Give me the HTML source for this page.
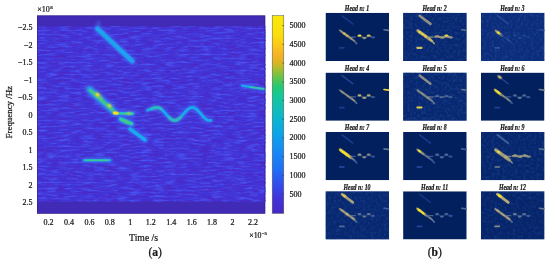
<!DOCTYPE html><html><head><meta charset="utf-8"><style>html,body{margin:0;padding:0;background:#fff;}body{width:550px;height:262px;overflow:hidden;}svg{display:block}text{font-family:"Liberation Serif",serif;fill:#151515;stroke:#151515;stroke-width:0.22px}</style></head><body>
<svg width="550" height="262" viewBox="0 0 550 262">
<defs>
<linearGradient id="cb" x1="0" y1="0" x2="0" y2="1"><stop offset="0.000" stop-color="#fae80a"/><stop offset="0.098" stop-color="#fade0f"/><stop offset="0.149" stop-color="#fac819"/><stop offset="0.199" stop-color="#f5b228"/><stop offset="0.240" stop-color="#d7b623"/><stop offset="0.275" stop-color="#a0be32"/><stop offset="0.326" stop-color="#50c655"/><stop offset="0.361" stop-color="#23c873"/><stop offset="0.401" stop-color="#14c896"/><stop offset="0.452" stop-color="#12c0af"/><stop offset="0.528" stop-color="#0ab4d2"/><stop offset="0.603" stop-color="#0ca2e8"/><stop offset="0.679" stop-color="#168cf5"/><stop offset="0.780" stop-color="#206ef5"/><stop offset="0.856" stop-color="#324ceb"/><stop offset="0.931" stop-color="#4132d7"/><stop offset="1.000" stop-color="#4628c6"/></linearGradient>
<filter id="n1" x="0" y="0" width="1" height="1" color-interpolation-filters="sRGB"><feTurbulence type="fractalNoise" baseFrequency="0.085 0.5" numOctaves="3" seed="5" result="t"/><feColorMatrix in="t" type="matrix" values="0 0 0 0 0.29  0 0 0 0 0.36  0 0 0 0 0.98  2.2 0 0 0 -0.97" result="c"/><feTurbulence type="fractalNoise" baseFrequency="0.075 0.5" numOctaves="2" seed="17" result="t2"/><feColorMatrix in="t2" type="matrix" values="0 0 0 0 0.31  0 0 0 0 0.14  0 0 0 0 0.74  2.2 0 0 0 -0.98" result="c2"/><feMerge><feMergeNode in="SourceGraphic"/><feMergeNode in="c2"/><feMergeNode in="c"/></feMerge></filter>
<filter id="b4" filterUnits="userSpaceOnUse" x="0" y="0" width="550" height="262"><feGaussianBlur stdDeviation="0.4"/></filter>
<filter id="b5" filterUnits="userSpaceOnUse" x="0" y="0" width="550" height="262"><feGaussianBlur stdDeviation="0.5"/></filter>
<filter id="b6" filterUnits="userSpaceOnUse" x="0" y="0" width="550" height="262"><feGaussianBlur stdDeviation="0.6"/></filter>
<filter id="b7" filterUnits="userSpaceOnUse" x="0" y="0" width="550" height="262"><feGaussianBlur stdDeviation="0.7"/></filter>
<filter id="b8" filterUnits="userSpaceOnUse" x="0" y="0" width="550" height="262"><feGaussianBlur stdDeviation="0.8"/></filter>
<filter id="b10" filterUnits="userSpaceOnUse" x="0" y="0" width="550" height="262"><feGaussianBlur stdDeviation="1.0"/></filter>
<filter id="b12" filterUnits="userSpaceOnUse" x="0" y="0" width="550" height="262"><feGaussianBlur stdDeviation="1.2"/></filter>
<filter id="b15" filterUnits="userSpaceOnUse" x="0" y="0" width="550" height="262"><feGaussianBlur stdDeviation="1.5"/></filter>
<clipPath id="pc"><rect x="37.00" y="15.50" width="228.20" height="198.10"/></clipPath>
<filter id="hn0" x="0" y="0" width="1" height="1" color-interpolation-filters="sRGB"><feTurbulence type="fractalNoise" baseFrequency="0.38 0.34" numOctaves="3" seed="3" result="t"/><feColorMatrix in="t" type="matrix" values="0 0 0 0 0.11  0 0 0 0 0.26  0 0 0 0 0.56  2.8 0 0 0 -1.22" result="c"/><feGaussianBlur in="c" stdDeviation="0.45" result="cb"/><feComposite in="cb" in2="SourceGraphic" operator="over"/></filter>
<filter id="hn1" x="0" y="0" width="1" height="1" color-interpolation-filters="sRGB"><feTurbulence type="fractalNoise" baseFrequency="0.38 0.34" numOctaves="3" seed="7" result="t"/><feColorMatrix in="t" type="matrix" values="0 0 0 0 0.11  0 0 0 0 0.26  0 0 0 0 0.56  2.8 0 0 0 -1.22" result="c"/><feGaussianBlur in="c" stdDeviation="0.45" result="cb"/><feComposite in="cb" in2="SourceGraphic" operator="over"/></filter>
<filter id="hn2" x="0" y="0" width="1" height="1" color-interpolation-filters="sRGB"><feTurbulence type="fractalNoise" baseFrequency="0.38 0.34" numOctaves="3" seed="11" result="t"/><feColorMatrix in="t" type="matrix" values="0 0 0 0 0.11  0 0 0 0 0.26  0 0 0 0 0.56  2.8 0 0 0 -1.22" result="c"/><feGaussianBlur in="c" stdDeviation="0.45" result="cb"/><feComposite in="cb" in2="SourceGraphic" operator="over"/></filter>
</defs>
<rect x="37.00" y="15.50" width="228.20" height="198.10" fill="#402ab6"/>
<rect x="37.00" y="26.5" width="228.20" height="175" fill="#4231d4" filter="url(#n1)"/>
<g clip-path="url(#pc)">
<ellipse cx="98.5" cy="24.0" rx="2.20" ry="3.50" fill="#4a6ae8" opacity="0.55" transform="rotate(0.0 98.5 24.0)" filter="url(#b15)"/>
<path d="M97.4,28.6 L132.3,61.2" fill="none" stroke="#3f6ef2" stroke-width="7.00" stroke-linecap="round" stroke-linejoin="round" opacity="0.80" filter="url(#b12)"/>
<path d="M97.4,28.6 L132.3,61.2" fill="none" stroke="#2a90f0" stroke-width="4.40" stroke-linecap="round" stroke-linejoin="round" opacity="1.00" filter="url(#b9)"/>
<path d="M97.6,28.8 L132.0,61.0" fill="none" stroke="#18b0ec" stroke-width="2.20" stroke-linecap="round" stroke-linejoin="round" opacity="1.00" filter="url(#b8)"/>
<path d="M89.6,89.6 L114.0,111.5" fill="none" stroke="#3f6ef2" stroke-width="9.00" stroke-linecap="round" stroke-linejoin="round" opacity="0.85" filter="url(#b15)"/>
<path d="M89.8,89.8 L114.0,111.5" fill="none" stroke="#20b0d8" stroke-width="5.20" stroke-linecap="round" stroke-linejoin="round" opacity="1.00" filter="url(#b10)"/>
<path d="M90.5,90.5 L113.5,111.0" fill="none" stroke="#40c48c" stroke-width="3.00" stroke-linecap="round" stroke-linejoin="round" opacity="1.00" filter="url(#b9)"/>
<path d="M116.0,113.5 L132.6,113.6" fill="none" stroke="#3f6ef2" stroke-width="6.20" stroke-linecap="round" stroke-linejoin="round" opacity="0.85" filter="url(#b10)"/>
<path d="M116.0,113.5 L132.6,113.6" fill="none" stroke="#16aaee" stroke-width="3.20" stroke-linecap="round" stroke-linejoin="round" opacity="1.00" filter="url(#b6)"/>
<path d="M116.0,113.5 L132.6,113.6" fill="none" stroke="#40c890" stroke-width="1.92" stroke-linecap="round" stroke-linejoin="round" opacity="1.00" filter="url(#b6)"/>
<path d="M120.8,119.2 L131.4,123.8" fill="none" stroke="#3f6ef2" stroke-width="7.40" stroke-linecap="round" stroke-linejoin="round" opacity="0.85" filter="url(#b10)"/>
<path d="M120.8,119.2 L131.4,123.8" fill="none" stroke="#16aaee" stroke-width="4.40" stroke-linecap="round" stroke-linejoin="round" opacity="1.00" filter="url(#b6)"/>
<path d="M120.8,119.2 L131.4,123.8" fill="none" stroke="#3cc890" stroke-width="2.64" stroke-linecap="round" stroke-linejoin="round" opacity="1.00" filter="url(#b6)"/>
<path d="M130.0,129.0 L145.0,139.8" fill="none" stroke="#3f6ef2" stroke-width="6.40" stroke-linecap="round" stroke-linejoin="round" opacity="0.75" filter="url(#b10)"/>
<path d="M130.0,129.0 L145.0,139.8" fill="none" stroke="#16aaee" stroke-width="3.40" stroke-linecap="round" stroke-linejoin="round" opacity="1.00" filter="url(#b6)"/>
<ellipse cx="97.6" cy="94.7" rx="3.20" ry="2.00" fill="#a8cc50" opacity="1.00" transform="rotate(40.0 97.6 94.7)" filter="url(#b10)"/>
<ellipse cx="97.6" cy="94.7" rx="1.80" ry="1.10" fill="#f6dc20" opacity="1.00" transform="rotate(40.0 97.6 94.7)" filter="url(#b5)"/>
<ellipse cx="101.2" cy="98.2" rx="1.60" ry="1.10" fill="#a8cc50" opacity="0.90" transform="rotate(40.0 101.2 98.2)" filter="url(#b8)"/>
<ellipse cx="109.5" cy="105.8" rx="2.80" ry="1.80" fill="#a0cc58" opacity="1.00" transform="rotate(40.0 109.5 105.8)" filter="url(#b10)"/>
<ellipse cx="109.5" cy="105.8" rx="1.50" ry="1.00" fill="#eed828" opacity="1.00" transform="rotate(40.0 109.5 105.8)" filter="url(#b5)"/>
<ellipse cx="115.6" cy="113.0" rx="3.00" ry="1.80" fill="#fae018" opacity="1.00" transform="rotate(5.0 115.6 113.0)" filter="url(#b7)"/>
<ellipse cx="129.0" cy="113.5" rx="2.20" ry="1.40" fill="#b8cc48" opacity="0.90" transform="rotate(0.0 129.0 113.5)" filter="url(#b8)"/>
<ellipse cx="126.0" cy="121.8" rx="3.20" ry="1.70" fill="#48c880" opacity="0.90" transform="rotate(22.0 126.0 121.8)" filter="url(#b8)"/>
<path d="M147.6,110.2 L148.4,109.9 L149.2,109.5 L150.0,109.2 L150.8,108.9 L151.6,108.6 L152.4,108.4 L153.2,108.1 L154.0,107.9 L154.8,107.8 L155.6,107.7 L156.4,107.6 L157.2,107.5 L158.0,107.6 L158.8,107.8 L159.6,108.1 L160.4,108.5 L161.2,109.1 L162.0,109.8 L162.8,110.5 L163.6,111.3 L164.4,112.2 L165.2,113.1 L166.0,114.1 L166.8,115.0 L167.6,115.9 L168.4,116.8 L169.2,117.6 L170.0,118.3 L170.8,119.0 L171.6,119.5 L172.4,120.0 L173.2,120.3 L174.0,120.4 L174.8,120.5 L175.6,120.4 L176.4,120.2 L177.2,119.9 L178.0,119.4 L178.8,118.8 L179.6,118.1 L180.4,117.4 L181.2,116.6 L182.0,115.7 L182.8,114.8 L183.6,113.8 L184.4,112.9 L185.2,112.0 L186.0,111.1 L186.8,110.3 L187.6,109.6 L188.4,109.0 L189.2,108.4 L190.0,108.0 L190.8,107.7 L191.6,107.5 L192.4,107.5 L193.2,107.6 L194.0,107.8 L194.8,108.2 L195.6,108.7 L196.4,109.3 L197.2,109.9 L198.0,110.7 L198.8,111.6 L199.6,112.4 L200.4,113.4 L201.2,114.3 L202.0,115.2 L202.8,116.1 L203.6,117.0 L204.4,117.8 L205.2,118.5 L206.0,119.1 L206.8,119.6 L207.6,120.0 L208.4,120.3 L209.2,120.5 L210.0,120.5 L210.8,120.4" fill="none" stroke="#3f6ef2" stroke-width="5.70" stroke-linecap="round" stroke-linejoin="round" opacity="0.65" filter="url(#b10)"/>
<path d="M147.6,110.2 L148.4,109.9 L149.2,109.5 L150.0,109.2 L150.8,108.9 L151.6,108.6 L152.4,108.4 L153.2,108.1 L154.0,107.9 L154.8,107.8 L155.6,107.7 L156.4,107.6 L157.2,107.5 L158.0,107.6 L158.8,107.8 L159.6,108.1 L160.4,108.5 L161.2,109.1 L162.0,109.8 L162.8,110.5 L163.6,111.3 L164.4,112.2 L165.2,113.1 L166.0,114.1 L166.8,115.0 L167.6,115.9 L168.4,116.8 L169.2,117.6 L170.0,118.3 L170.8,119.0 L171.6,119.5 L172.4,120.0 L173.2,120.3 L174.0,120.4 L174.8,120.5 L175.6,120.4 L176.4,120.2 L177.2,119.9 L178.0,119.4 L178.8,118.8 L179.6,118.1 L180.4,117.4 L181.2,116.6 L182.0,115.7 L182.8,114.8 L183.6,113.8 L184.4,112.9 L185.2,112.0 L186.0,111.1 L186.8,110.3 L187.6,109.6 L188.4,109.0 L189.2,108.4 L190.0,108.0 L190.8,107.7 L191.6,107.5 L192.4,107.5 L193.2,107.6 L194.0,107.8 L194.8,108.2 L195.6,108.7 L196.4,109.3 L197.2,109.9 L198.0,110.7 L198.8,111.6 L199.6,112.4 L200.4,113.4 L201.2,114.3 L202.0,115.2 L202.8,116.1 L203.6,117.0 L204.4,117.8 L205.2,118.5 L206.0,119.1 L206.8,119.6 L207.6,120.0 L208.4,120.3 L209.2,120.5 L210.0,120.5 L210.8,120.4" fill="none" stroke="#16aaee" stroke-width="2.70" stroke-linecap="round" stroke-linejoin="round" opacity="1.00" filter="url(#b6)"/>
<path d="M151.6,108.6 L152.4,108.4 L153.2,108.1 L154.0,107.9 L154.8,107.8 L155.6,107.7 L156.4,107.6 L157.2,107.5 L158.0,107.6 L158.8,107.8 L159.6,108.1 L160.4,108.5 L161.2,109.1" fill="none" stroke="#3cc4a0" stroke-width="2.40" stroke-linecap="round" stroke-linejoin="round" opacity="0.90" filter="url(#b10)"/>
<path d="M169.2,117.6 L170.0,118.3 L170.8,119.0 L171.6,119.5 L172.4,120.0 L173.2,120.3 L174.0,120.4 L174.8,120.5 L175.6,120.4 L176.4,120.2 L177.2,119.9 L178.0,119.4 L178.8,118.8 L179.6,118.1 L180.4,117.4" fill="none" stroke="#3cc4a0" stroke-width="2.40" stroke-linecap="round" stroke-linejoin="round" opacity="0.90" filter="url(#b10)"/>
<path d="M242.2,85.7 L266.0,89.4" fill="none" stroke="#3f6ef2" stroke-width="5.10" stroke-linecap="round" stroke-linejoin="round" opacity="0.70" filter="url(#b10)"/>
<path d="M242.2,85.7 L266.0,89.4" fill="none" stroke="#16aaee" stroke-width="2.10" stroke-linecap="round" stroke-linejoin="round" opacity="1.00" filter="url(#b6)"/>
<path d="M250.0,87.0 L266.0,89.3" fill="none" stroke="#38c4a0" stroke-width="1.60" stroke-linecap="round" stroke-linejoin="round" opacity="1.00" filter="url(#b6)"/>
<path d="M84.3,160.3 L109.8,160.3" fill="none" stroke="#3f6ef2" stroke-width="5.40" stroke-linecap="round" stroke-linejoin="round" opacity="0.85" filter="url(#b10)"/>
<path d="M84.3,160.3 L109.8,160.3" fill="none" stroke="#16aaee" stroke-width="2.40" stroke-linecap="round" stroke-linejoin="round" opacity="1.00" filter="url(#b6)"/>
<path d="M86.0,160.3 L108.0,160.3" fill="none" stroke="#3cc890" stroke-width="1.50" stroke-linecap="round" stroke-linejoin="round" opacity="1.00" filter="url(#b6)"/>
</g>
<rect x="37.30" y="15.80" width="227.60" height="197.50" fill="none" stroke="#2a1f70" stroke-width="0.6" opacity="0.8"/>
<rect x="272.2" y="15.70" width="11.6" height="197.70" fill="url(#cb)" stroke="#555" stroke-width="0.5"/>
<text x="32.4" y="27.80" font-size="8" text-anchor="end" dominant-baseline="central">−2.5</text>
<text x="32.4" y="45.30" font-size="8" text-anchor="end" dominant-baseline="central">−2</text>
<text x="32.4" y="62.80" font-size="8" text-anchor="end" dominant-baseline="central">−1.5</text>
<text x="32.4" y="80.30" font-size="8" text-anchor="end" dominant-baseline="central">−1</text>
<text x="32.4" y="97.80" font-size="8" text-anchor="end" dominant-baseline="central">−0.5</text>
<text x="32.4" y="115.30" font-size="8" text-anchor="end" dominant-baseline="central">0</text>
<text x="32.4" y="132.80" font-size="8" text-anchor="end" dominant-baseline="central">0.5</text>
<text x="32.4" y="150.30" font-size="8" text-anchor="end" dominant-baseline="central">1</text>
<text x="32.4" y="167.80" font-size="8" text-anchor="end" dominant-baseline="central">1.5</text>
<text x="32.4" y="185.30" font-size="8" text-anchor="end" dominant-baseline="central">2</text>
<text x="32.4" y="202.80" font-size="8" text-anchor="end" dominant-baseline="central">2.5</text>
<text x="48.50" y="225.4" font-size="8" text-anchor="middle">0.2</text>
<text x="68.95" y="225.4" font-size="8" text-anchor="middle">0.4</text>
<text x="89.40" y="225.4" font-size="8" text-anchor="middle">0.6</text>
<text x="109.85" y="225.4" font-size="8" text-anchor="middle">0.8</text>
<text x="130.30" y="225.4" font-size="8" text-anchor="middle">1</text>
<text x="150.75" y="225.4" font-size="8" text-anchor="middle">1.2</text>
<text x="171.20" y="225.4" font-size="8" text-anchor="middle">1.4</text>
<text x="191.65" y="225.4" font-size="8" text-anchor="middle">1.6</text>
<text x="212.10" y="225.4" font-size="8" text-anchor="middle">1.8</text>
<text x="232.55" y="225.4" font-size="8" text-anchor="middle">2</text>
<text x="253.00" y="225.4" font-size="8" text-anchor="middle">2.2</text>
<line x1="282.2" x2="284" y1="194.08" y2="194.08" stroke="#333" stroke-width="0.5"/>
<text x="289.5" y="194.08" font-size="8" dominant-baseline="central">500</text>
<line x1="282.2" x2="284" y1="175.36" y2="175.36" stroke="#333" stroke-width="0.5"/>
<text x="289.5" y="175.36" font-size="8" dominant-baseline="central">1000</text>
<line x1="282.2" x2="284" y1="156.64" y2="156.64" stroke="#333" stroke-width="0.5"/>
<text x="289.5" y="156.64" font-size="8" dominant-baseline="central">1500</text>
<line x1="282.2" x2="284" y1="137.92" y2="137.92" stroke="#333" stroke-width="0.5"/>
<text x="289.5" y="137.92" font-size="8" dominant-baseline="central">2000</text>
<line x1="282.2" x2="284" y1="119.20" y2="119.20" stroke="#333" stroke-width="0.5"/>
<text x="289.5" y="119.20" font-size="8" dominant-baseline="central">2500</text>
<line x1="282.2" x2="284" y1="100.48" y2="100.48" stroke="#333" stroke-width="0.5"/>
<text x="289.5" y="100.48" font-size="8" dominant-baseline="central">3000</text>
<line x1="282.2" x2="284" y1="81.76" y2="81.76" stroke="#333" stroke-width="0.5"/>
<text x="289.5" y="81.76" font-size="8" dominant-baseline="central">3500</text>
<line x1="282.2" x2="284" y1="63.04" y2="63.04" stroke="#333" stroke-width="0.5"/>
<text x="289.5" y="63.04" font-size="8" dominant-baseline="central">4000</text>
<line x1="282.2" x2="284" y1="44.32" y2="44.32" stroke="#333" stroke-width="0.5"/>
<text x="289.5" y="44.32" font-size="8" dominant-baseline="central">4500</text>
<line x1="282.2" x2="284" y1="25.60" y2="25.60" stroke="#333" stroke-width="0.5"/>
<text x="289.5" y="25.60" font-size="8" dominant-baseline="central">5000</text>
<text x="37.2" y="12" font-size="8">×10<tspan font-size="5" dy="-3.2" dx="0.5">8</tspan></text>
<text x="249.3" y="238.4" font-size="7.8">×10<tspan font-size="5" dy="-3.2" dx="0.3">−5</tspan></text>
<text x="143.6" y="240.6" font-size="9.7" text-anchor="middle">Time /s</text>
<text transform="translate(12,112.2) rotate(-90)" font-size="8.9" text-anchor="middle">Frequency /Hz</text>
<text x="155.2" y="256" font-size="11.6" text-anchor="middle">(<tspan font-weight="bold">a</tspan>)</text>
<text x="434.8" y="256" font-size="11.6" text-anchor="middle">(<tspan font-weight="bold">b</tspan>)</text>
<clipPath id="hc1"><rect x="325.50" y="12.80" width="63.60" height="48.20"/></clipPath>
<g clip-path="url(#hc1)">
<rect x="325.50" y="12.80" width="63.60" height="48.20" fill="#03205e"/>
<path d="M342.0,15.7 L352.8,23.9" fill="none" stroke="#153a8d" stroke-width="1.40" stroke-linecap="round" stroke-linejoin="round" opacity="1.00" filter="url(#b6)"/>
<path d="M354.1,40.8 L356.7,43.6" fill="none" stroke="#516893" stroke-width="1.60" stroke-linecap="round" stroke-linejoin="round" opacity="1.00" filter="url(#b6)"/>
<path d="M350.9,37.1 L355.4,37.1" fill="none" stroke="#516893" stroke-width="1.30" stroke-linecap="round" stroke-linejoin="round" opacity="0.90" filter="url(#b6)"/>
<path d="M340.1,30.6 L354.1,40.8" fill="none" stroke="#6c798c" stroke-width="1.20" stroke-linecap="round" stroke-linejoin="round" opacity="0.90" filter="url(#b6)"/>
<ellipse cx="341.1" cy="31.4" rx="2.74" ry="0.80" fill="#a6a07a" transform="rotate(40.5 341.1 31.4)" filter="url(#b6)"/>
<ellipse cx="343.1" cy="32.8" rx="2.74" ry="0.80" fill="#949380" transform="rotate(40.5 343.1 32.8)" filter="url(#b6)"/>
<ellipse cx="345.1" cy="34.2" rx="2.74" ry="0.80" fill="#baae72" transform="rotate(40.5 345.1 34.2)" filter="url(#b6)"/>
<ellipse cx="347.1" cy="35.7" rx="2.74" ry="0.80" fill="#99977e" transform="rotate(40.5 347.1 35.7)" filter="url(#b6)"/>
<ellipse cx="349.1" cy="37.1" rx="2.74" ry="0.80" fill="#9f9b7c" transform="rotate(40.5 349.1 37.1)" filter="url(#b6)"/>
<ellipse cx="351.1" cy="38.6" rx="2.74" ry="0.80" fill="#b8ad73" transform="rotate(40.5 351.1 38.6)" filter="url(#b6)"/>
<ellipse cx="353.1" cy="40.0" rx="2.74" ry="0.80" fill="#919181" transform="rotate(40.5 353.1 40.0)" filter="url(#b6)"/>
<ellipse cx="344.3" cy="33.7" rx="1.70" ry="1.10" fill="#dbc655" transform="rotate(35.0 344.3 33.7)" filter="url(#b6)"/>
<ellipse cx="347.1" cy="35.7" rx="1.70" ry="1.10" fill="#cdbc63" transform="rotate(35.0 347.1 35.7)" filter="url(#b6)"/>
<path d="M357.9,36.6 L358.6,36.4 L359.2,36.3 L359.8,36.3 L360.5,36.4 L361.1,36.6 L361.8,36.8 L362.4,37.1 L363.0,37.3 L363.7,37.4 L364.3,37.5 L364.9,37.4 L365.6,37.3 L366.2,37.1 L366.8,36.8 L367.5,36.6 L368.1,36.4 L368.7,36.3 L369.4,36.3 L370.0,36.4 L370.7,36.6 L371.3,36.8 L371.9,37.1 L372.6,37.3 L373.2,37.4 L373.8,37.5 L374.5,37.4" fill="none" stroke="#909082" stroke-width="1.20" stroke-linecap="round" stroke-linejoin="round" opacity="0.70" filter="url(#b6)"/>
<ellipse cx="359.5" cy="35.5" rx="2.00" ry="1.10" fill="#f5e033" transform="rotate(0.0 359.5 35.5)" filter="url(#b6)"/>
<ellipse cx="364.3" cy="38.1" rx="2.00" ry="1.10" fill="#98967f" transform="rotate(0.0 364.3 38.1)" filter="url(#b6)"/>
<ellipse cx="368.7" cy="35.5" rx="2.00" ry="1.10" fill="#dbc655" transform="rotate(0.0 368.7 35.5)" filter="url(#b6)"/>
<ellipse cx="372.9" cy="37.4" rx="2.00" ry="1.10" fill="#315297" transform="rotate(0.0 372.9 37.4)" filter="url(#b6)"/>
<path d="M384.0,29.7 L390.4,30.6" fill="none" stroke="#64748e" stroke-width="1.60" stroke-linecap="round" stroke-linejoin="round" opacity="1.00" filter="url(#b6)"/>
<path d="M339.8,47.8 L343.9,47.8" fill="none" stroke="#153a8d" stroke-width="1.80" stroke-linecap="round" stroke-linejoin="round" opacity="1.00" filter="url(#b6)"/>
</g>
<text x="344.80" y="11.20" font-size="7.2" font-weight="bold" font-style="italic" textLength="24.4" lengthAdjust="spacingAndGlyphs">Head n: 1</text>
<clipPath id="hc2"><rect x="403.10" y="12.80" width="63.60" height="48.20"/></clipPath>
<g clip-path="url(#hc2)">
<rect x="403.10" y="12.80" width="63.60" height="48.20" fill="#082972"/>
<rect x="403.10" y="12.80" width="63.60" height="48.20" fill="#082972" opacity="0.60" filter="url(#hn2)"/>
<path d="M419.6,15.7 L430.4,23.9" fill="none" stroke="#8f9082" stroke-width="2.60" stroke-linecap="round" stroke-linejoin="round" opacity="1.00" filter="url(#b6)"/>
<path d="M431.7,40.8 L434.3,43.6" fill="none" stroke="#98967f" stroke-width="1.60" stroke-linecap="round" stroke-linejoin="round" opacity="1.00" filter="url(#b6)"/>
<path d="M428.5,37.1 L433.0,37.1" fill="none" stroke="#98967f" stroke-width="1.30" stroke-linecap="round" stroke-linejoin="round" opacity="0.90" filter="url(#b6)"/>
<path d="M417.7,30.6 L431.7,40.8" fill="none" stroke="#7c8388" stroke-width="2.04" stroke-linecap="round" stroke-linejoin="round" opacity="0.90" filter="url(#b6)"/>
<ellipse cx="418.7" cy="31.4" rx="2.74" ry="1.36" fill="#b3a975" transform="rotate(40.5 418.7 31.4)" filter="url(#b6)"/>
<ellipse cx="420.7" cy="32.8" rx="2.74" ry="1.36" fill="#c6b76a" transform="rotate(40.5 420.7 32.8)" filter="url(#b6)"/>
<ellipse cx="422.7" cy="34.2" rx="2.74" ry="1.36" fill="#a09b7c" transform="rotate(40.5 422.7 34.2)" filter="url(#b6)"/>
<ellipse cx="424.7" cy="35.7" rx="2.74" ry="1.36" fill="#c0b270" transform="rotate(40.5 424.7 35.7)" filter="url(#b6)"/>
<ellipse cx="426.7" cy="37.1" rx="2.74" ry="1.36" fill="#bcaf72" transform="rotate(40.5 426.7 37.1)" filter="url(#b6)"/>
<ellipse cx="428.7" cy="38.6" rx="2.74" ry="1.36" fill="#a19d7b" transform="rotate(40.5 428.7 38.6)" filter="url(#b6)"/>
<ellipse cx="430.7" cy="40.0" rx="2.74" ry="1.36" fill="#c9b967" transform="rotate(40.5 430.7 40.0)" filter="url(#b6)"/>
<ellipse cx="419.8" cy="32.2" rx="1.70" ry="1.10" fill="#f3dd37" transform="rotate(35.0 419.8 32.2)" filter="url(#b6)"/>
<ellipse cx="422.6" cy="34.2" rx="1.70" ry="1.10" fill="#efd83d" transform="rotate(35.0 422.6 34.2)" filter="url(#b6)"/>
<ellipse cx="425.4" cy="36.2" rx="1.70" ry="1.10" fill="#e8d048" transform="rotate(35.0 425.4 36.2)" filter="url(#b6)"/>
<path d="M434.9,36.8 L435.5,36.6 L436.2,36.4 L436.8,36.3 L437.4,36.3 L438.1,36.4 L438.7,36.6 L439.4,36.8 L440.0,37.1 L440.6,37.3 L441.3,37.4 L441.9,37.5 L442.5,37.4 L443.2,37.3 L443.8,37.1 L444.4,36.8 L445.1,36.6 L445.7,36.4 L446.3,36.3 L447.0,36.3 L447.6,36.4 L448.3,36.6 L448.9,36.8 L449.5,37.1 L450.2,37.3 L450.8,37.4 L451.4,37.5 L452.1,37.4 L452.7,37.3" fill="none" stroke="#66758d" stroke-width="1.82" stroke-linecap="round" stroke-linejoin="round" opacity="0.80" filter="url(#b6)"/>
<ellipse cx="435.5" cy="36.6" rx="1.50" ry="1.17" fill="#8a8c84" transform="rotate(0.0 435.5 36.6)" filter="url(#b6)"/>
<ellipse cx="437.4" cy="36.3" rx="1.50" ry="1.17" fill="#afa676" transform="rotate(0.0 437.4 36.3)" filter="url(#b6)"/>
<ellipse cx="439.4" cy="36.8" rx="1.50" ry="1.17" fill="#9e9a7d" transform="rotate(0.0 439.4 36.8)" filter="url(#b6)"/>
<ellipse cx="441.3" cy="37.4" rx="1.50" ry="1.17" fill="#929281" transform="rotate(0.0 441.3 37.4)" filter="url(#b6)"/>
<ellipse cx="443.2" cy="37.3" rx="1.50" ry="1.17" fill="#b5aa74" transform="rotate(0.0 443.2 37.3)" filter="url(#b6)"/>
<ellipse cx="445.1" cy="36.6" rx="1.50" ry="1.17" fill="#8e8f82" transform="rotate(0.0 445.1 36.6)" filter="url(#b6)"/>
<ellipse cx="447.0" cy="36.3" rx="1.50" ry="1.17" fill="#a39e7b" transform="rotate(0.0 447.0 36.3)" filter="url(#b6)"/>
<ellipse cx="448.9" cy="36.8" rx="1.50" ry="1.17" fill="#aca478" transform="rotate(0.0 448.9 36.8)" filter="url(#b6)"/>
<ellipse cx="450.8" cy="37.4" rx="1.50" ry="1.17" fill="#8b8c84" transform="rotate(0.0 450.8 37.4)" filter="url(#b6)"/>
<ellipse cx="446.3" cy="35.5" rx="2.00" ry="1.10" fill="#ecd542" transform="rotate(0.0 446.3 35.5)" filter="url(#b6)"/>
<path d="M461.6,29.7 L468.0,30.6" fill="none" stroke="#5c6f90" stroke-width="1.60" stroke-linecap="round" stroke-linejoin="round" opacity="1.00" filter="url(#b6)"/>
<path d="M417.4,47.8 L421.5,47.8" fill="none" stroke="#cdbc63" stroke-width="2.30" stroke-linecap="round" stroke-linejoin="round" opacity="1.00" filter="url(#b6)"/>
</g>
<text x="422.40" y="11.20" font-size="7.2" font-weight="bold" font-style="italic" textLength="24.4" lengthAdjust="spacingAndGlyphs">Head n: 2</text>
<clipPath id="hc3"><rect x="480.90" y="12.80" width="63.60" height="48.20"/></clipPath>
<g clip-path="url(#hc3)">
<rect x="480.90" y="12.80" width="63.60" height="48.20" fill="#0b2d7b"/>
<rect x="480.90" y="12.80" width="63.60" height="48.20" fill="#0b2d7b" opacity="0.72" filter="url(#hn0)"/>
<path d="M497.4,15.7 L508.2,23.9" fill="none" stroke="#254895" stroke-width="1.60" stroke-linecap="round" stroke-linejoin="round" opacity="1.00" filter="url(#b6)"/>
<path d="M509.5,40.8 L512.1,43.6" fill="none" stroke="#183e94" stroke-width="1.60" stroke-linecap="round" stroke-linejoin="round" opacity="1.00" filter="url(#b6)"/>
<path d="M506.3,37.1 L510.8,37.1" fill="none" stroke="#183e94" stroke-width="1.30" stroke-linecap="round" stroke-linejoin="round" opacity="0.90" filter="url(#b6)"/>
<path d="M496.2,31.1 L501.8,35.2" fill="none" stroke="#717c8b" stroke-width="1.56" stroke-linecap="round" stroke-linejoin="round" opacity="0.90" filter="url(#b6)"/>
<ellipse cx="497.6" cy="32.2" rx="3.72" ry="1.04" fill="#ada577" transform="rotate(40.5 497.6 32.2)" filter="url(#b6)"/>
<ellipse cx="500.4" cy="34.2" rx="3.72" ry="1.04" fill="#99967f" transform="rotate(40.5 500.4 34.2)" filter="url(#b6)"/>
<path d="M501.8,35.2 L509.5,40.8" fill="none" stroke="#173c90" stroke-width="0.96" stroke-linecap="round" stroke-linejoin="round" opacity="0.90" filter="url(#b6)"/>
<ellipse cx="503.1" cy="36.1" rx="3.44" ry="0.64" fill="#274a96" transform="rotate(40.5 503.1 36.1)" filter="url(#b6)"/>
<ellipse cx="505.7" cy="38.0" rx="3.44" ry="0.64" fill="#163b8e" transform="rotate(40.5 505.7 38.0)" filter="url(#b6)"/>
<ellipse cx="508.2" cy="39.8" rx="3.44" ry="0.64" fill="#385897" transform="rotate(40.5 508.2 39.8)" filter="url(#b6)"/>
<ellipse cx="498.3" cy="32.7" rx="1.70" ry="1.10" fill="#f8e32e" transform="rotate(35.0 498.3 32.7)" filter="url(#b6)"/>
<path d="M513.3,36.6 L514.0,36.4 L514.6,36.3 L515.2,36.3 L515.9,36.4 L516.5,36.6 L517.2,36.8 L517.8,37.1 L518.4,37.3 L519.1,37.4 L519.7,37.5 L520.3,37.4 L521.0,37.3 L521.6,37.1 L522.2,36.8 L522.9,36.6 L523.5,36.4 L524.1,36.3 L524.8,36.3 L525.4,36.4 L526.1,36.6 L526.7,36.8 L527.3,37.1 L528.0,37.3 L528.6,37.4 L529.2,37.5 L529.9,37.4" fill="none" stroke="#113482" stroke-width="1.20" stroke-linecap="round" stroke-linejoin="round" opacity="0.70" filter="url(#b6)"/>
<ellipse cx="514.9" cy="35.5" rx="2.00" ry="1.10" fill="#204495" transform="rotate(0.0 514.9 35.5)" filter="url(#b6)"/>
<ellipse cx="519.7" cy="38.1" rx="2.00" ry="1.10" fill="#204495" transform="rotate(0.0 519.7 38.1)" filter="url(#b6)"/>
<ellipse cx="524.1" cy="35.5" rx="2.00" ry="1.10" fill="#204495" transform="rotate(0.0 524.1 35.5)" filter="url(#b6)"/>
<ellipse cx="528.3" cy="37.4" rx="2.00" ry="1.10" fill="#183e94" transform="rotate(0.0 528.3 37.4)" filter="url(#b6)"/>
<path d="M539.4,29.7 L545.8,30.6" fill="none" stroke="#254895" stroke-width="1.60" stroke-linecap="round" stroke-linejoin="round" opacity="1.00" filter="url(#b6)"/>
<path d="M495.2,47.8 L499.3,47.8" fill="none" stroke="#315297" stroke-width="1.80" stroke-linecap="round" stroke-linejoin="round" opacity="1.00" filter="url(#b6)"/>
</g>
<text x="500.20" y="11.20" font-size="7.2" font-weight="bold" font-style="italic" textLength="24.4" lengthAdjust="spacingAndGlyphs">Head n: 3</text>
<clipPath id="hc4"><rect x="325.50" y="72.60" width="63.60" height="48.20"/></clipPath>
<g clip-path="url(#hc4)">
<rect x="325.50" y="72.60" width="63.60" height="48.20" fill="#03205e"/>
<path d="M342.0,75.5 L352.8,83.7" fill="none" stroke="#254895" stroke-width="1.40" stroke-linecap="round" stroke-linejoin="round" opacity="1.00" filter="url(#b6)"/>
<path d="M354.1,100.6 L356.7,103.4" fill="none" stroke="#516893" stroke-width="1.60" stroke-linecap="round" stroke-linejoin="round" opacity="1.00" filter="url(#b6)"/>
<path d="M350.9,96.9 L355.4,96.9" fill="none" stroke="#516893" stroke-width="1.30" stroke-linecap="round" stroke-linejoin="round" opacity="0.90" filter="url(#b6)"/>
<path d="M340.1,90.4 L354.1,100.6" fill="none" stroke="#5e7090" stroke-width="1.20" stroke-linecap="round" stroke-linejoin="round" opacity="0.90" filter="url(#b6)"/>
<ellipse cx="341.1" cy="91.2" rx="2.74" ry="0.80" fill="#949380" transform="rotate(40.5 341.1 91.2)" filter="url(#b6)"/>
<ellipse cx="343.1" cy="92.6" rx="2.74" ry="0.80" fill="#aaa278" transform="rotate(40.5 343.1 92.6)" filter="url(#b6)"/>
<ellipse cx="345.1" cy="94.0" rx="2.74" ry="0.80" fill="#808687" transform="rotate(40.5 345.1 94.0)" filter="url(#b6)"/>
<ellipse cx="347.1" cy="95.5" rx="2.74" ry="0.80" fill="#a19c7c" transform="rotate(40.5 347.1 95.5)" filter="url(#b6)"/>
<ellipse cx="349.1" cy="96.9" rx="2.74" ry="0.80" fill="#a09b7c" transform="rotate(40.5 349.1 96.9)" filter="url(#b6)"/>
<ellipse cx="351.1" cy="98.4" rx="2.74" ry="0.80" fill="#808687" transform="rotate(40.5 351.1 98.4)" filter="url(#b6)"/>
<ellipse cx="353.1" cy="99.8" rx="2.74" ry="0.80" fill="#aaa378" transform="rotate(40.5 353.1 99.8)" filter="url(#b6)"/>
<path d="M357.9,96.4 L358.6,96.2 L359.2,96.1 L359.8,96.1 L360.5,96.2 L361.1,96.4 L361.8,96.6 L362.4,96.9 L363.0,97.1 L363.7,97.2 L364.3,97.3 L364.9,97.2 L365.6,97.1 L366.2,96.9 L366.8,96.6 L367.5,96.4 L368.1,96.2 L368.7,96.1 L369.4,96.1 L370.0,96.2 L370.7,96.4 L371.3,96.6 L371.9,96.9 L372.6,97.1 L373.2,97.2 L373.8,97.3 L374.5,97.2" fill="none" stroke="#5e7090" stroke-width="1.20" stroke-linecap="round" stroke-linejoin="round" opacity="0.70" filter="url(#b6)"/>
<ellipse cx="359.5" cy="95.3" rx="2.00" ry="1.10" fill="#c0b270" transform="rotate(0.0 359.5 95.3)" filter="url(#b6)"/>
<ellipse cx="364.3" cy="97.9" rx="2.00" ry="1.10" fill="#a59f7a" transform="rotate(0.0 364.3 97.9)" filter="url(#b6)"/>
<ellipse cx="368.7" cy="95.3" rx="2.00" ry="1.10" fill="#b3a875" transform="rotate(0.0 368.7 95.3)" filter="url(#b6)"/>
<ellipse cx="372.9" cy="97.2" rx="2.00" ry="1.10" fill="#315297" transform="rotate(0.0 372.9 97.2)" filter="url(#b6)"/>
<path d="M384.0,89.5 L390.4,90.4" fill="none" stroke="#f1db39" stroke-width="1.60" stroke-linecap="round" stroke-linejoin="round" opacity="1.00" filter="url(#b6)"/>
<path d="M339.8,107.6 L343.9,107.6" fill="none" stroke="#183e94" stroke-width="1.80" stroke-linecap="round" stroke-linejoin="round" opacity="1.00" filter="url(#b6)"/>
</g>
<text x="344.80" y="71.00" font-size="7.2" font-weight="bold" font-style="italic" textLength="24.4" lengthAdjust="spacingAndGlyphs">Head n: 4</text>
<clipPath id="hc5"><rect x="403.10" y="72.60" width="63.60" height="48.20"/></clipPath>
<g clip-path="url(#hc5)">
<rect x="403.10" y="72.60" width="63.60" height="48.20" fill="#082972"/>
<rect x="403.10" y="72.60" width="63.60" height="48.20" fill="#082972" opacity="0.60" filter="url(#hn2)"/>
<path d="M419.6,75.5 L430.4,83.7" fill="none" stroke="#8a8c84" stroke-width="2.40" stroke-linecap="round" stroke-linejoin="round" opacity="1.00" filter="url(#b6)"/>
<path d="M431.7,100.6 L434.3,103.4" fill="none" stroke="#64748e" stroke-width="1.60" stroke-linecap="round" stroke-linejoin="round" opacity="1.00" filter="url(#b6)"/>
<path d="M428.5,96.9 L433.0,96.9" fill="none" stroke="#64748e" stroke-width="1.30" stroke-linecap="round" stroke-linejoin="round" opacity="0.90" filter="url(#b6)"/>
<path d="M417.7,90.4 L431.7,100.6" fill="none" stroke="#516893" stroke-width="1.44" stroke-linecap="round" stroke-linejoin="round" opacity="0.90" filter="url(#b6)"/>
<ellipse cx="418.7" cy="91.2" rx="2.74" ry="0.96" fill="#8e8f82" transform="rotate(40.5 418.7 91.2)" filter="url(#b6)"/>
<ellipse cx="420.7" cy="92.6" rx="2.74" ry="0.96" fill="#707b8b" transform="rotate(40.5 420.7 92.6)" filter="url(#b6)"/>
<ellipse cx="422.7" cy="94.0" rx="2.74" ry="0.96" fill="#9f9a7c" transform="rotate(40.5 422.7 94.0)" filter="url(#b6)"/>
<ellipse cx="424.7" cy="95.5" rx="2.74" ry="0.96" fill="#7e8487" transform="rotate(40.5 424.7 95.5)" filter="url(#b6)"/>
<ellipse cx="426.7" cy="96.9" rx="2.74" ry="0.96" fill="#7d8487" transform="rotate(40.5 426.7 96.9)" filter="url(#b6)"/>
<ellipse cx="428.7" cy="98.4" rx="2.74" ry="0.96" fill="#9f9b7c" transform="rotate(40.5 428.7 98.4)" filter="url(#b6)"/>
<ellipse cx="430.7" cy="99.8" rx="2.74" ry="0.96" fill="#707c8b" transform="rotate(40.5 430.7 99.8)" filter="url(#b6)"/>
<path d="M434.9,96.6 L435.5,96.4 L436.2,96.2 L436.8,96.1 L437.4,96.1 L438.1,96.2 L438.7,96.4 L439.4,96.6 L440.0,96.9 L440.6,97.1 L441.3,97.2 L441.9,97.3 L442.5,97.2 L443.2,97.1 L443.8,96.9 L444.4,96.6 L445.1,96.4 L445.7,96.2 L446.3,96.1 L447.0,96.1 L447.6,96.2 L448.3,96.4 L448.9,96.6 L449.5,96.9 L450.2,97.1 L450.8,97.2 L451.4,97.3 L452.1,97.2 L452.7,97.1" fill="none" stroke="#2d4e96" stroke-width="1.40" stroke-linecap="round" stroke-linejoin="round" opacity="0.80" filter="url(#b6)"/>
<ellipse cx="435.5" cy="96.4" rx="1.50" ry="0.90" fill="#3e5c98" transform="rotate(0.0 435.5 96.4)" filter="url(#b6)"/>
<ellipse cx="437.4" cy="96.1" rx="1.50" ry="0.90" fill="#65758e" transform="rotate(0.0 437.4 96.1)" filter="url(#b6)"/>
<ellipse cx="439.4" cy="96.6" rx="1.50" ry="0.90" fill="#325397" transform="rotate(0.0 439.4 96.6)" filter="url(#b6)"/>
<ellipse cx="441.3" cy="97.2" rx="1.50" ry="0.90" fill="#586c91" transform="rotate(0.0 441.3 97.2)" filter="url(#b6)"/>
<ellipse cx="443.2" cy="97.1" rx="1.50" ry="0.90" fill="#516893" transform="rotate(0.0 443.2 97.1)" filter="url(#b6)"/>
<ellipse cx="445.1" cy="96.4" rx="1.50" ry="0.90" fill="#345497" transform="rotate(0.0 445.1 96.4)" filter="url(#b6)"/>
<ellipse cx="447.0" cy="96.1" rx="1.50" ry="0.90" fill="#67768d" transform="rotate(0.0 447.0 96.1)" filter="url(#b6)"/>
<ellipse cx="448.9" cy="96.6" rx="1.50" ry="0.90" fill="#3a5998" transform="rotate(0.0 448.9 96.6)" filter="url(#b6)"/>
<ellipse cx="450.8" cy="97.2" rx="1.50" ry="0.90" fill="#456096" transform="rotate(0.0 450.8 97.2)" filter="url(#b6)"/>
<path d="M461.6,89.5 L468.0,90.4" fill="none" stroke="#64748e" stroke-width="1.60" stroke-linecap="round" stroke-linejoin="round" opacity="1.00" filter="url(#b6)"/>
<path d="M417.4,107.6 L421.5,107.6" fill="none" stroke="#e8d048" stroke-width="2.00" stroke-linecap="round" stroke-linejoin="round" opacity="1.00" filter="url(#b6)"/>
</g>
<text x="422.40" y="71.00" font-size="7.2" font-weight="bold" font-style="italic" textLength="24.4" lengthAdjust="spacingAndGlyphs">Head n: 5</text>
<clipPath id="hc6"><rect x="480.90" y="72.60" width="63.60" height="48.20"/></clipPath>
<g clip-path="url(#hc6)">
<rect x="480.90" y="72.60" width="63.60" height="48.20" fill="#03205e"/>
<path d="M497.4,75.5 L508.2,83.7" fill="none" stroke="#204495" stroke-width="1.40" stroke-linecap="round" stroke-linejoin="round" opacity="1.00" filter="url(#b6)"/>
<ellipse cx="499.7" cy="77.2" rx="2.40" ry="1.40" fill="#c0b270" transform="rotate(35.0 499.7 77.2)" filter="url(#b6)"/>
<path d="M509.5,100.6 L512.1,103.4" fill="none" stroke="#3e5c98" stroke-width="1.60" stroke-linecap="round" stroke-linejoin="round" opacity="1.00" filter="url(#b6)"/>
<path d="M506.3,96.9 L510.8,96.9" fill="none" stroke="#3e5c98" stroke-width="1.30" stroke-linecap="round" stroke-linejoin="round" opacity="0.90" filter="url(#b6)"/>
<path d="M495.5,90.4 L501.1,94.5" fill="none" stroke="#b7ab74" stroke-width="1.68" stroke-linecap="round" stroke-linejoin="round" opacity="0.90" filter="url(#b6)"/>
<ellipse cx="496.9" cy="91.4" rx="3.72" ry="1.12" fill="#f3dd37" transform="rotate(40.5 496.9 91.4)" filter="url(#b6)"/>
<ellipse cx="499.7" cy="93.5" rx="3.72" ry="1.12" fill="#fce828" transform="rotate(40.5 499.7 93.5)" filter="url(#b6)"/>
<path d="M501.1,94.5 L509.5,100.6" fill="none" stroke="#516893" stroke-width="1.20" stroke-linecap="round" stroke-linejoin="round" opacity="0.90" filter="url(#b6)"/>
<ellipse cx="502.2" cy="95.2" rx="2.87" ry="0.80" fill="#828786" transform="rotate(40.5 502.2 95.2)" filter="url(#b6)"/>
<ellipse cx="504.3" cy="96.8" rx="2.87" ry="0.80" fill="#9d997d" transform="rotate(40.5 504.3 96.8)" filter="url(#b6)"/>
<ellipse cx="506.4" cy="98.3" rx="2.87" ry="0.80" fill="#6e7a8b" transform="rotate(40.5 506.4 98.3)" filter="url(#b6)"/>
<ellipse cx="508.5" cy="99.8" rx="2.87" ry="0.80" fill="#929181" transform="rotate(40.5 508.5 99.8)" filter="url(#b6)"/>
<path d="M513.3,96.4 L514.0,96.2 L514.6,96.1 L515.2,96.1 L515.9,96.2 L516.5,96.4 L517.2,96.6 L517.8,96.9 L518.4,97.1 L519.1,97.2 L519.7,97.3 L520.3,97.2 L521.0,97.1 L521.6,96.9 L522.2,96.6 L522.9,96.4 L523.5,96.2 L524.1,96.1 L524.8,96.1 L525.4,96.2 L526.1,96.4 L526.7,96.6 L527.3,96.9 L528.0,97.1 L528.6,97.2 L529.2,97.3 L529.9,97.2" fill="none" stroke="#2a4c96" stroke-width="1.20" stroke-linecap="round" stroke-linejoin="round" opacity="0.70" filter="url(#b6)"/>
<ellipse cx="514.9" cy="95.3" rx="2.00" ry="1.10" fill="#516893" transform="rotate(0.0 514.9 95.3)" filter="url(#b6)"/>
<ellipse cx="519.7" cy="97.9" rx="2.00" ry="1.10" fill="#64748e" transform="rotate(0.0 519.7 97.9)" filter="url(#b6)"/>
<ellipse cx="524.1" cy="95.3" rx="2.00" ry="1.10" fill="#516893" transform="rotate(0.0 524.1 95.3)" filter="url(#b6)"/>
<ellipse cx="528.3" cy="97.2" rx="2.00" ry="1.10" fill="#315297" transform="rotate(0.0 528.3 97.2)" filter="url(#b6)"/>
<path d="M539.4,89.5 L545.8,90.4" fill="none" stroke="#778089" stroke-width="1.60" stroke-linecap="round" stroke-linejoin="round" opacity="1.00" filter="url(#b6)"/>
<path d="M495.2,107.6 L499.3,107.6" fill="none" stroke="#1b4094" stroke-width="1.80" stroke-linecap="round" stroke-linejoin="round" opacity="1.00" filter="url(#b6)"/>
</g>
<text x="500.20" y="71.00" font-size="7.2" font-weight="bold" font-style="italic" textLength="24.4" lengthAdjust="spacingAndGlyphs">Head n: 6</text>
<clipPath id="hc7"><rect x="325.50" y="132.00" width="63.60" height="48.20"/></clipPath>
<g clip-path="url(#hc7)">
<rect x="325.50" y="132.00" width="63.60" height="48.20" fill="#03205e"/>
<path d="M342.0,134.9 L352.8,143.1" fill="none" stroke="#183e94" stroke-width="1.40" stroke-linecap="round" stroke-linejoin="round" opacity="1.00" filter="url(#b6)"/>
<path d="M354.1,160.0 L356.7,162.8" fill="none" stroke="#3e5c98" stroke-width="1.60" stroke-linecap="round" stroke-linejoin="round" opacity="1.00" filter="url(#b6)"/>
<path d="M350.9,156.3 L355.4,156.3" fill="none" stroke="#3e5c98" stroke-width="1.30" stroke-linecap="round" stroke-linejoin="round" opacity="0.90" filter="url(#b6)"/>
<path d="M340.1,149.8 L350.6,157.4" fill="none" stroke="#ada577" stroke-width="1.92" stroke-linecap="round" stroke-linejoin="round" opacity="0.90" filter="url(#b6)"/>
<ellipse cx="341.2" cy="150.6" rx="2.87" ry="1.28" fill="#f2dc38" transform="rotate(40.5 341.2 150.6)" filter="url(#b6)"/>
<ellipse cx="343.3" cy="152.1" rx="2.87" ry="1.28" fill="#e2cc4e" transform="rotate(40.5 343.3 152.1)" filter="url(#b6)"/>
<ellipse cx="345.4" cy="153.6" rx="2.87" ry="1.28" fill="#f8e42e" transform="rotate(40.5 345.4 153.6)" filter="url(#b6)"/>
<ellipse cx="347.5" cy="155.1" rx="2.87" ry="1.28" fill="#ebd443" transform="rotate(40.5 347.5 155.1)" filter="url(#b6)"/>
<ellipse cx="349.6" cy="156.7" rx="2.87" ry="1.28" fill="#e9d246" transform="rotate(40.5 349.6 156.7)" filter="url(#b6)"/>
<path d="M350.6,157.4 L354.1,160.0" fill="none" stroke="#516893" stroke-width="1.20" stroke-linecap="round" stroke-linejoin="round" opacity="0.90" filter="url(#b6)"/>
<ellipse cx="351.5" cy="158.1" rx="2.44" ry="0.80" fill="#909082" transform="rotate(40.5 351.5 158.1)" filter="url(#b6)"/>
<ellipse cx="353.2" cy="159.3" rx="2.44" ry="0.80" fill="#6e7b8b" transform="rotate(40.5 353.2 159.3)" filter="url(#b6)"/>
<ellipse cx="342.9" cy="151.9" rx="1.70" ry="1.10" fill="#f8e32e" transform="rotate(35.0 342.9 151.9)" filter="url(#b6)"/>
<ellipse cx="346.4" cy="154.4" rx="1.70" ry="1.10" fill="#f5e033" transform="rotate(35.0 346.4 154.4)" filter="url(#b6)"/>
<path d="M357.9,155.8 L358.6,155.6 L359.2,155.5 L359.8,155.5 L360.5,155.6 L361.1,155.8 L361.8,156.0 L362.4,156.3 L363.0,156.5 L363.7,156.6 L364.3,156.7 L364.9,156.6 L365.6,156.5 L366.2,156.3 L366.8,156.0 L367.5,155.8 L368.1,155.6 L368.7,155.5 L369.4,155.5 L370.0,155.6 L370.7,155.8 L371.3,156.0 L371.9,156.3 L372.6,156.5 L373.2,156.6 L373.8,156.7 L374.5,156.6" fill="none" stroke="#3f5d98" stroke-width="1.20" stroke-linecap="round" stroke-linejoin="round" opacity="0.70" filter="url(#b6)"/>
<ellipse cx="359.5" cy="154.7" rx="2.00" ry="1.10" fill="#98967f" transform="rotate(0.0 359.5 154.7)" filter="url(#b6)"/>
<ellipse cx="364.3" cy="157.3" rx="2.00" ry="1.10" fill="#8a8c84" transform="rotate(0.0 364.3 157.3)" filter="url(#b6)"/>
<ellipse cx="368.7" cy="154.7" rx="2.00" ry="1.10" fill="#8a8c84" transform="rotate(0.0 368.7 154.7)" filter="url(#b6)"/>
<ellipse cx="372.9" cy="156.6" rx="2.00" ry="1.10" fill="#315297" transform="rotate(0.0 372.9 156.6)" filter="url(#b6)"/>
<path d="M384.0,148.9 L390.4,149.8" fill="none" stroke="#64748e" stroke-width="1.60" stroke-linecap="round" stroke-linejoin="round" opacity="1.00" filter="url(#b6)"/>
<path d="M339.8,167.0 L343.9,167.0" fill="none" stroke="#1b4094" stroke-width="1.80" stroke-linecap="round" stroke-linejoin="round" opacity="1.00" filter="url(#b6)"/>
</g>
<text x="344.80" y="130.40" font-size="7.2" font-weight="bold" font-style="italic" textLength="24.4" lengthAdjust="spacingAndGlyphs">Head n: 7</text>
<clipPath id="hc8"><rect x="403.10" y="132.00" width="63.60" height="48.20"/></clipPath>
<g clip-path="url(#hc8)">
<rect x="403.10" y="132.00" width="63.60" height="48.20" fill="#03205e"/>
<path d="M419.6,134.9 L430.4,143.1" fill="none" stroke="#183e94" stroke-width="1.40" stroke-linecap="round" stroke-linejoin="round" opacity="1.00" filter="url(#b6)"/>
<path d="M431.7,160.0 L434.3,162.8" fill="none" stroke="#395897" stroke-width="1.60" stroke-linecap="round" stroke-linejoin="round" opacity="1.00" filter="url(#b6)"/>
<path d="M428.5,156.3 L433.0,156.3" fill="none" stroke="#395897" stroke-width="1.30" stroke-linecap="round" stroke-linejoin="round" opacity="0.90" filter="url(#b6)"/>
<path d="M417.7,149.8 L424.7,154.9" fill="none" stroke="#717c8b" stroke-width="1.44" stroke-linecap="round" stroke-linejoin="round" opacity="0.90" filter="url(#b6)"/>
<ellipse cx="418.9" cy="150.7" rx="3.15" ry="0.96" fill="#a39e7b" transform="rotate(40.5 418.9 150.7)" filter="url(#b6)"/>
<ellipse cx="421.2" cy="152.4" rx="3.15" ry="0.96" fill="#beb171" transform="rotate(40.5 421.2 152.4)" filter="url(#b6)"/>
<ellipse cx="423.6" cy="154.1" rx="3.15" ry="0.96" fill="#97957f" transform="rotate(40.5 423.6 154.1)" filter="url(#b6)"/>
<path d="M424.7,154.9 L431.7,160.0" fill="none" stroke="#355597" stroke-width="1.20" stroke-linecap="round" stroke-linejoin="round" opacity="0.90" filter="url(#b6)"/>
<ellipse cx="425.9" cy="155.7" rx="3.15" ry="0.80" fill="#526993" transform="rotate(40.5 425.9 155.7)" filter="url(#b6)"/>
<ellipse cx="428.2" cy="157.4" rx="3.15" ry="0.80" fill="#788189" transform="rotate(40.5 428.2 157.4)" filter="url(#b6)"/>
<ellipse cx="430.6" cy="159.1" rx="3.15" ry="0.80" fill="#415e97" transform="rotate(40.5 430.6 159.1)" filter="url(#b6)"/>
<ellipse cx="419.4" cy="151.0" rx="1.70" ry="1.10" fill="#f8e32e" transform="rotate(35.0 419.4 151.0)" filter="url(#b6)"/>
<path d="M435.5,155.8 L436.2,155.6 L436.8,155.5 L437.4,155.5 L438.1,155.6 L438.7,155.8 L439.4,156.0 L440.0,156.3 L440.6,156.5 L441.3,156.6 L441.9,156.7 L442.5,156.6 L443.2,156.5 L443.8,156.3 L444.4,156.0 L445.1,155.8 L445.7,155.6 L446.3,155.5 L447.0,155.5 L447.6,155.6 L448.3,155.8 L448.9,156.0 L449.5,156.3 L450.2,156.5 L450.8,156.6 L451.4,156.7 L452.1,156.6" fill="none" stroke="#234695" stroke-width="1.20" stroke-linecap="round" stroke-linejoin="round" opacity="0.70" filter="url(#b6)"/>
<ellipse cx="437.1" cy="154.7" rx="2.00" ry="1.10" fill="#516893" transform="rotate(0.0 437.1 154.7)" filter="url(#b6)"/>
<ellipse cx="441.9" cy="157.3" rx="2.00" ry="1.10" fill="#516893" transform="rotate(0.0 441.9 157.3)" filter="url(#b6)"/>
<ellipse cx="446.3" cy="154.7" rx="2.00" ry="1.10" fill="#516893" transform="rotate(0.0 446.3 154.7)" filter="url(#b6)"/>
<ellipse cx="450.5" cy="156.6" rx="2.00" ry="1.10" fill="#315297" transform="rotate(0.0 450.5 156.6)" filter="url(#b6)"/>
<path d="M461.6,148.9 L468.0,149.8" fill="none" stroke="#3e5c98" stroke-width="1.60" stroke-linecap="round" stroke-linejoin="round" opacity="1.00" filter="url(#b6)"/>
<path d="M417.4,167.0 L421.5,167.0" fill="none" stroke="#1b4094" stroke-width="1.80" stroke-linecap="round" stroke-linejoin="round" opacity="1.00" filter="url(#b6)"/>
</g>
<text x="422.40" y="130.40" font-size="7.2" font-weight="bold" font-style="italic" textLength="24.4" lengthAdjust="spacingAndGlyphs">Head n: 8</text>
<clipPath id="hc9"><rect x="480.90" y="132.00" width="63.60" height="48.20"/></clipPath>
<g clip-path="url(#hc9)">
<rect x="480.90" y="132.00" width="63.60" height="48.20" fill="#07276d"/>
<rect x="480.90" y="132.00" width="63.60" height="48.20" fill="#07276d" opacity="0.53" filter="url(#hn0)"/>
<path d="M497.4,134.9 L508.2,143.1" fill="none" stroke="#3e5c98" stroke-width="2.00" stroke-linecap="round" stroke-linejoin="round" opacity="1.00" filter="url(#b6)"/>
<path d="M509.5,160.0 L512.1,162.8" fill="none" stroke="#8a8c84" stroke-width="1.60" stroke-linecap="round" stroke-linejoin="round" opacity="1.00" filter="url(#b6)"/>
<path d="M506.3,156.3 L510.8,156.3" fill="none" stroke="#8a8c84" stroke-width="1.30" stroke-linecap="round" stroke-linejoin="round" opacity="0.90" filter="url(#b6)"/>
<path d="M495.5,149.8 L509.5,160.0" fill="none" stroke="#717c8b" stroke-width="2.52" stroke-linecap="round" stroke-linejoin="round" opacity="0.90" filter="url(#b6)"/>
<ellipse cx="496.5" cy="150.6" rx="2.74" ry="1.68" fill="#b2a875" transform="rotate(40.5 496.5 150.6)" filter="url(#b6)"/>
<ellipse cx="498.5" cy="152.0" rx="2.74" ry="1.68" fill="#969580" transform="rotate(40.5 498.5 152.0)" filter="url(#b6)"/>
<ellipse cx="500.5" cy="153.4" rx="2.74" ry="1.68" fill="#bdb071" transform="rotate(40.5 500.5 153.4)" filter="url(#b6)"/>
<ellipse cx="502.5" cy="154.9" rx="2.74" ry="1.68" fill="#a59f7a" transform="rotate(40.5 502.5 154.9)" filter="url(#b6)"/>
<ellipse cx="504.5" cy="156.3" rx="2.74" ry="1.68" fill="#9e9a7d" transform="rotate(40.5 504.5 156.3)" filter="url(#b6)"/>
<ellipse cx="506.5" cy="157.8" rx="2.74" ry="1.68" fill="#c0b270" transform="rotate(40.5 506.5 157.8)" filter="url(#b6)"/>
<ellipse cx="508.5" cy="159.2" rx="2.74" ry="1.68" fill="#9a977e" transform="rotate(40.5 508.5 159.2)" filter="url(#b6)"/>
<ellipse cx="498.3" cy="151.9" rx="1.70" ry="1.10" fill="#f3dd37" transform="rotate(35.0 498.3 151.9)" filter="url(#b6)"/>
<path d="M512.7,156.0 L513.3,155.8 L514.0,155.6 L514.6,155.5 L515.2,155.5 L515.9,155.6 L516.5,155.8 L517.2,156.0 L517.8,156.3 L518.4,156.5 L519.1,156.6 L519.7,156.7 L520.3,156.6 L521.0,156.5 L521.6,156.3 L522.2,156.0 L522.9,155.8 L523.5,155.6 L524.1,155.5 L524.8,155.5 L525.4,155.6 L526.1,155.8 L526.7,156.0 L527.3,156.3 L528.0,156.5 L528.6,156.6 L529.2,156.7 L529.9,156.6 L530.5,156.5" fill="none" stroke="#5e7090" stroke-width="1.82" stroke-linecap="round" stroke-linejoin="round" opacity="0.80" filter="url(#b6)"/>
<ellipse cx="513.3" cy="155.8" rx="1.50" ry="1.17" fill="#858985" transform="rotate(0.0 513.3 155.8)" filter="url(#b6)"/>
<ellipse cx="515.2" cy="155.5" rx="1.50" ry="1.17" fill="#ada577" transform="rotate(0.0 515.2 155.5)" filter="url(#b6)"/>
<ellipse cx="517.2" cy="156.0" rx="1.50" ry="1.17" fill="#898b84" transform="rotate(0.0 517.2 156.0)" filter="url(#b6)"/>
<ellipse cx="519.1" cy="156.6" rx="1.50" ry="1.17" fill="#97957f" transform="rotate(0.0 519.1 156.6)" filter="url(#b6)"/>
<ellipse cx="521.0" cy="156.5" rx="1.50" ry="1.17" fill="#a7a079" transform="rotate(0.0 521.0 156.5)" filter="url(#b6)"/>
<ellipse cx="522.9" cy="155.8" rx="1.50" ry="1.17" fill="#7f8587" transform="rotate(0.0 522.9 155.8)" filter="url(#b6)"/>
<ellipse cx="524.8" cy="155.5" rx="1.50" ry="1.17" fill="#a8a179" transform="rotate(0.0 524.8 155.5)" filter="url(#b6)"/>
<ellipse cx="526.7" cy="156.0" rx="1.50" ry="1.17" fill="#969480" transform="rotate(0.0 526.7 156.0)" filter="url(#b6)"/>
<ellipse cx="528.6" cy="156.6" rx="1.50" ry="1.17" fill="#8a8c84" transform="rotate(0.0 528.6 156.6)" filter="url(#b6)"/>
<path d="M539.4,148.9 L545.8,149.8" fill="none" stroke="#5c6f90" stroke-width="1.60" stroke-linecap="round" stroke-linejoin="round" opacity="1.00" filter="url(#b6)"/>
<path d="M495.2,167.0 L499.3,167.0" fill="none" stroke="#778089" stroke-width="1.60" stroke-linecap="round" stroke-linejoin="round" opacity="1.00" filter="url(#b6)"/>
</g>
<text x="500.20" y="130.40" font-size="7.2" font-weight="bold" font-style="italic" textLength="24.4" lengthAdjust="spacingAndGlyphs">Head n: 9</text>
<clipPath id="hc10"><rect x="325.50" y="191.30" width="63.60" height="48.20"/></clipPath>
<g clip-path="url(#hc10)">
<rect x="325.50" y="191.30" width="63.60" height="48.20" fill="#082871"/>
<rect x="325.50" y="191.30" width="63.60" height="48.20" fill="#082871" opacity="0.57" filter="url(#hn1)"/>
<path d="M342.0,194.2 L352.8,202.4" fill="none" stroke="#a59f7a" stroke-width="2.60" stroke-linecap="round" stroke-linejoin="round" opacity="1.00" filter="url(#b6)"/>
<ellipse cx="344.3" cy="195.9" rx="2.40" ry="1.40" fill="#dbc655" transform="rotate(35.0 344.3 195.9)" filter="url(#b6)"/>
<path d="M354.1,219.3 L356.7,222.1" fill="none" stroke="#516893" stroke-width="1.60" stroke-linecap="round" stroke-linejoin="round" opacity="1.00" filter="url(#b6)"/>
<path d="M350.9,215.6 L355.4,215.6" fill="none" stroke="#516893" stroke-width="1.30" stroke-linecap="round" stroke-linejoin="round" opacity="0.90" filter="url(#b6)"/>
<path d="M340.1,209.1 L354.1,219.3" fill="none" stroke="#6c798c" stroke-width="1.44" stroke-linecap="round" stroke-linejoin="round" opacity="0.90" filter="url(#b6)"/>
<ellipse cx="341.1" cy="209.9" rx="2.74" ry="0.96" fill="#9c997d" transform="rotate(40.5 341.1 209.9)" filter="url(#b6)"/>
<ellipse cx="343.1" cy="211.3" rx="2.74" ry="0.96" fill="#baad72" transform="rotate(40.5 343.1 211.3)" filter="url(#b6)"/>
<ellipse cx="345.1" cy="212.7" rx="2.74" ry="0.96" fill="#929281" transform="rotate(40.5 345.1 212.7)" filter="url(#b6)"/>
<ellipse cx="347.1" cy="214.2" rx="2.74" ry="0.96" fill="#a9a278" transform="rotate(40.5 347.1 214.2)" filter="url(#b6)"/>
<ellipse cx="349.1" cy="215.6" rx="2.74" ry="0.96" fill="#b2a875" transform="rotate(40.5 349.1 215.6)" filter="url(#b6)"/>
<ellipse cx="351.1" cy="217.1" rx="2.74" ry="0.96" fill="#8f9082" transform="rotate(40.5 351.1 217.1)" filter="url(#b6)"/>
<ellipse cx="353.1" cy="218.5" rx="2.74" ry="0.96" fill="#b5aa74" transform="rotate(40.5 353.1 218.5)" filter="url(#b6)"/>
<ellipse cx="347.1" cy="214.2" rx="1.70" ry="1.10" fill="#c0b270" transform="rotate(35.0 347.1 214.2)" filter="url(#b6)"/>
<path d="M357.9,215.1 L358.6,214.9 L359.2,214.8 L359.8,214.8 L360.5,214.9 L361.1,215.1 L361.8,215.3 L362.4,215.6 L363.0,215.8 L363.7,215.9 L364.3,216.0 L364.9,215.9 L365.6,215.8 L366.2,215.6 L366.8,215.3 L367.5,215.1 L368.1,214.9 L368.7,214.8 L369.4,214.8 L370.0,214.9 L370.7,215.1 L371.3,215.3 L371.9,215.6 L372.6,215.8 L373.2,215.9 L373.8,216.0 L374.5,215.9" fill="none" stroke="#2d4e96" stroke-width="1.20" stroke-linecap="round" stroke-linejoin="round" opacity="0.70" filter="url(#b6)"/>
<ellipse cx="359.5" cy="214.0" rx="2.00" ry="1.10" fill="#64748e" transform="rotate(0.0 359.5 214.0)" filter="url(#b6)"/>
<ellipse cx="364.3" cy="216.6" rx="2.00" ry="1.10" fill="#64748e" transform="rotate(0.0 364.3 216.6)" filter="url(#b6)"/>
<ellipse cx="368.7" cy="214.0" rx="2.00" ry="1.10" fill="#6c798c" transform="rotate(0.0 368.7 214.0)" filter="url(#b6)"/>
<ellipse cx="372.9" cy="215.9" rx="2.00" ry="1.10" fill="#3e5c98" transform="rotate(0.0 372.9 215.9)" filter="url(#b6)"/>
<path d="M384.0,208.2 L390.4,209.1" fill="none" stroke="#3e5c98" stroke-width="1.60" stroke-linecap="round" stroke-linejoin="round" opacity="1.00" filter="url(#b6)"/>
<path d="M339.8,226.3 L343.9,226.3" fill="none" stroke="#516893" stroke-width="1.80" stroke-linecap="round" stroke-linejoin="round" opacity="1.00" filter="url(#b6)"/>
</g>
<text x="343.50" y="189.70" font-size="7.2" font-weight="bold" font-style="italic" textLength="27.0" lengthAdjust="spacingAndGlyphs">Head n: 10</text>
<clipPath id="hc11"><rect x="403.10" y="191.30" width="63.60" height="48.20"/></clipPath>
<g clip-path="url(#hc11)">
<rect x="403.10" y="191.30" width="63.60" height="48.20" fill="#03205e"/>
<path d="M419.6,194.2 L430.4,202.4" fill="none" stroke="#143889" stroke-width="1.40" stroke-linecap="round" stroke-linejoin="round" opacity="1.00" filter="url(#b6)"/>
<path d="M431.7,219.3 L434.3,222.1" fill="none" stroke="#516893" stroke-width="1.60" stroke-linecap="round" stroke-linejoin="round" opacity="1.00" filter="url(#b6)"/>
<path d="M428.5,215.6 L433.0,215.6" fill="none" stroke="#516893" stroke-width="1.30" stroke-linecap="round" stroke-linejoin="round" opacity="0.90" filter="url(#b6)"/>
<path d="M417.7,209.1 L425.4,214.7" fill="none" stroke="#ada577" stroke-width="1.56" stroke-linecap="round" stroke-linejoin="round" opacity="0.90" filter="url(#b6)"/>
<ellipse cx="419.0" cy="210.1" rx="3.44" ry="1.04" fill="#f3de36" transform="rotate(40.5 419.0 210.1)" filter="url(#b6)"/>
<ellipse cx="421.6" cy="211.9" rx="3.44" ry="1.04" fill="#e1cb4f" transform="rotate(40.5 421.6 211.9)" filter="url(#b6)"/>
<ellipse cx="424.1" cy="213.8" rx="3.44" ry="1.04" fill="#f8e32f" transform="rotate(40.5 424.1 213.8)" filter="url(#b6)"/>
<path d="M425.4,214.7 L431.7,219.3" fill="none" stroke="#446096" stroke-width="1.20" stroke-linecap="round" stroke-linejoin="round" opacity="0.90" filter="url(#b6)"/>
<ellipse cx="426.5" cy="215.5" rx="2.86" ry="0.80" fill="#848885" transform="rotate(40.5 426.5 215.5)" filter="url(#b6)"/>
<ellipse cx="428.6" cy="217.0" rx="2.86" ry="0.80" fill="#5a6e91" transform="rotate(40.5 428.6 217.0)" filter="url(#b6)"/>
<ellipse cx="430.7" cy="218.5" rx="2.86" ry="0.80" fill="#8f8f82" transform="rotate(40.5 430.7 218.5)" filter="url(#b6)"/>
<ellipse cx="419.4" cy="210.3" rx="1.70" ry="1.10" fill="#f8e32e" transform="rotate(35.0 419.4 210.3)" filter="url(#b6)"/>
<path d="M435.5,215.1 L436.2,214.9 L436.8,214.8 L437.4,214.8 L438.1,214.9 L438.7,215.1 L439.4,215.3 L440.0,215.6 L440.6,215.8 L441.3,215.9 L441.9,216.0 L442.5,215.9 L443.2,215.8 L443.8,215.6 L444.4,215.3 L445.1,215.1 L445.7,214.9 L446.3,214.8 L447.0,214.8 L447.6,214.9 L448.3,215.1 L448.9,215.3 L449.5,215.6 L450.2,215.8 L450.8,215.9 L451.4,216.0 L452.1,215.9" fill="none" stroke="#234695" stroke-width="1.20" stroke-linecap="round" stroke-linejoin="round" opacity="0.70" filter="url(#b6)"/>
<ellipse cx="437.1" cy="214.0" rx="2.00" ry="1.10" fill="#516893" transform="rotate(0.0 437.1 214.0)" filter="url(#b6)"/>
<ellipse cx="441.9" cy="216.6" rx="2.00" ry="1.10" fill="#516893" transform="rotate(0.0 441.9 216.6)" filter="url(#b6)"/>
<ellipse cx="446.3" cy="214.0" rx="2.00" ry="1.10" fill="#516893" transform="rotate(0.0 446.3 214.0)" filter="url(#b6)"/>
<ellipse cx="450.5" cy="215.9" rx="2.00" ry="1.10" fill="#315297" transform="rotate(0.0 450.5 215.9)" filter="url(#b6)"/>
<path d="M461.6,208.2 L468.0,209.1" fill="none" stroke="#516893" stroke-width="1.60" stroke-linecap="round" stroke-linejoin="round" opacity="1.00" filter="url(#b6)"/>
<path d="M417.4,226.3 L421.5,226.3" fill="none" stroke="#204495" stroke-width="1.80" stroke-linecap="round" stroke-linejoin="round" opacity="1.00" filter="url(#b6)"/>
</g>
<text x="421.10" y="189.70" font-size="7.2" font-weight="bold" font-style="italic" textLength="27.0" lengthAdjust="spacingAndGlyphs">Head n: 11</text>
<clipPath id="hc12"><rect x="480.90" y="191.30" width="63.60" height="48.20"/></clipPath>
<g clip-path="url(#hc12)">
<rect x="480.90" y="191.30" width="63.60" height="48.20" fill="#06256a"/>
<rect x="480.90" y="191.30" width="63.60" height="48.20" fill="#06256a" opacity="0.47" filter="url(#hn0)"/>
<path d="M497.4,194.2 L508.2,202.4" fill="none" stroke="#b5aa74" stroke-width="2.80" stroke-linecap="round" stroke-linejoin="round" opacity="1.00" filter="url(#b6)"/>
<ellipse cx="499.7" cy="195.9" rx="2.40" ry="1.40" fill="#f5e033" transform="rotate(35.0 499.7 195.9)" filter="url(#b6)"/>
<path d="M509.5,219.3 L512.1,222.1" fill="none" stroke="#516893" stroke-width="1.60" stroke-linecap="round" stroke-linejoin="round" opacity="1.00" filter="url(#b6)"/>
<path d="M506.3,215.6 L510.8,215.6" fill="none" stroke="#516893" stroke-width="1.30" stroke-linecap="round" stroke-linejoin="round" opacity="0.90" filter="url(#b6)"/>
<path d="M495.5,209.1 L509.5,219.3" fill="none" stroke="#6c798c" stroke-width="1.44" stroke-linecap="round" stroke-linejoin="round" opacity="0.90" filter="url(#b6)"/>
<ellipse cx="496.5" cy="209.9" rx="2.74" ry="0.96" fill="#9b987e" transform="rotate(40.5 496.5 209.9)" filter="url(#b6)"/>
<ellipse cx="498.5" cy="211.3" rx="2.74" ry="0.96" fill="#baae72" transform="rotate(40.5 498.5 211.3)" filter="url(#b6)"/>
<ellipse cx="500.5" cy="212.7" rx="2.74" ry="0.96" fill="#939381" transform="rotate(40.5 500.5 212.7)" filter="url(#b6)"/>
<ellipse cx="502.5" cy="214.2" rx="2.74" ry="0.96" fill="#a8a179" transform="rotate(40.5 502.5 214.2)" filter="url(#b6)"/>
<ellipse cx="504.5" cy="215.6" rx="2.74" ry="0.96" fill="#b3a975" transform="rotate(40.5 504.5 215.6)" filter="url(#b6)"/>
<ellipse cx="506.5" cy="217.1" rx="2.74" ry="0.96" fill="#8f9082" transform="rotate(40.5 506.5 217.1)" filter="url(#b6)"/>
<ellipse cx="508.5" cy="218.5" rx="2.74" ry="0.96" fill="#b3a975" transform="rotate(40.5 508.5 218.5)" filter="url(#b6)"/>
<path d="M513.3,215.1 L514.0,214.9 L514.6,214.8 L515.2,214.8 L515.9,214.9 L516.5,215.1 L517.2,215.3 L517.8,215.6 L518.4,215.8 L519.1,215.9 L519.7,216.0 L520.3,215.9 L521.0,215.8 L521.6,215.6 L522.2,215.3 L522.9,215.1 L523.5,214.9 L524.1,214.8 L524.8,214.8 L525.4,214.9 L526.1,215.1 L526.7,215.3 L527.3,215.6 L528.0,215.8 L528.6,215.9 L529.2,216.0 L529.9,215.9" fill="none" stroke="#315297" stroke-width="1.20" stroke-linecap="round" stroke-linejoin="round" opacity="0.70" filter="url(#b6)"/>
<ellipse cx="514.9" cy="214.0" rx="2.00" ry="1.10" fill="#778089" transform="rotate(0.0 514.9 214.0)" filter="url(#b6)"/>
<ellipse cx="519.7" cy="216.6" rx="2.00" ry="1.10" fill="#64748e" transform="rotate(0.0 519.7 216.6)" filter="url(#b6)"/>
<ellipse cx="524.1" cy="214.0" rx="2.00" ry="1.10" fill="#64748e" transform="rotate(0.0 524.1 214.0)" filter="url(#b6)"/>
<ellipse cx="528.3" cy="215.9" rx="2.00" ry="1.10" fill="#3e5c98" transform="rotate(0.0 528.3 215.9)" filter="url(#b6)"/>
<path d="M539.4,208.2 L545.8,209.1" fill="none" stroke="#64748e" stroke-width="1.60" stroke-linecap="round" stroke-linejoin="round" opacity="1.00" filter="url(#b6)"/>
<path d="M495.2,226.3 L499.3,226.3" fill="none" stroke="#8a8c84" stroke-width="1.80" stroke-linecap="round" stroke-linejoin="round" opacity="1.00" filter="url(#b6)"/>
</g>
<text x="498.90" y="189.70" font-size="7.2" font-weight="bold" font-style="italic" textLength="27.0" lengthAdjust="spacingAndGlyphs">Head n: 12</text>
</svg></body></html>
